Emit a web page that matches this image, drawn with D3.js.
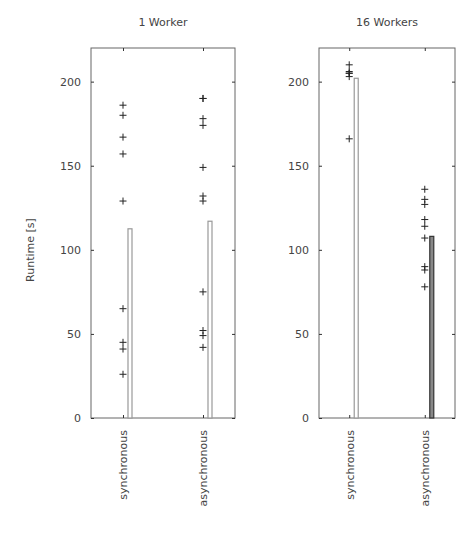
<!DOCTYPE html><html><head><meta charset="utf-8"><script src="https://cdn.jsdelivr.net/npm/d3@7"></script>
<style>body{margin:0;background:#fff}text{font-family:"DejaVu Sans",sans-serif;fill:#444}</style></head><body>
<svg id="c" width="474" height="557"></svg>
<script>
const categories=["synchronous","asynchronous"];
const panels=["1 Worker","16 Workers"];
const yTicks=[0,50,100,150,200];
const pts1Sync=[186,180,167,157,129,65,45,41,26];
const pts1Async=[190,190,178,174,149,132,129,75,52,49,42];
const pts16Sync=[210,206,205,205,203,166];
const pts16Async=[136,130,127,118,114,107,90,88,78];
const means1=[112.5,117];
const means16=[202,108];
const data=[{t:panels[0],pts:[pts1Sync,pts1Async],m:means1,x0:91,x1:235,bar:["#999","#999"]},
            {t:panels[1],pts:[pts16Sync,pts16Async],m:means16,x0:319,x1:455,bar:["#999","#333"]}];
const svg=d3.select("#c");
const y=d3.scaleLinear().domain([0,220]).range([418,48]);
data.forEach(p=>{
  const g=svg.append("g");
  const w=p.x1-p.x0;
  const x=d3.scalePoint().domain(categories).range([p.x0,p.x1]).padding(0.4);
  g.append("rect").attr("x",p.x0).attr("y",y(220)).attr("width",w).attr("height",y(0)-y(220)).attr("fill","none").attr("stroke","#666");
  g.append("g").attr("transform",`translate(${p.x0},0)`).call(d3.axisLeft(y).tickValues(yTicks).tickSize(-3).tickPadding(10)).call(a=>{a.select(".domain").remove();a.selectAll("line").attr("stroke","#333");a.selectAll("text").attr("font-size",11).style("fill","#444")});
  g.append("g").attr("transform",`translate(${p.x1},0)`).call(d3.axisRight(y).tickValues(yTicks).tickSize(-3).tickFormat("")).call(a=>{a.select(".domain").remove();a.selectAll("line").attr("stroke","#333")});
  g.append("g").attr("transform",`translate(0,${y(220)})`).call(d3.axisTop(x).tickSize(-3).tickFormat("")).call(a=>{a.select(".domain").remove();a.selectAll("line").attr("stroke","#333")});
  g.append("g").attr("transform",`translate(0,${y(0)})`).call(d3.axisBottom(x).tickSize(-3).tickPadding(12)).call(a=>{a.select(".domain").remove();a.selectAll("line").attr("stroke","#333");
    a.selectAll("text").attr("font-size",11).style("fill","#444").attr("text-anchor","end").attr("transform","rotate(-90)").attr("dx","-12").attr("dy","0.35em").attr("y",0).attr("x",0)});
  categories.forEach((c,i)=>{
    const cx=x(c);
    g.append("rect").attr("x",cx+5).attr("y",y(p.m[i])).attr("width",4).attr("height",y(0)-y(p.m[i])).attr("fill",i==1&&p.t==panels[1]?"#888":"#fff").attr("stroke",p.bar[i]).attr("stroke-width",1.2);
    p.pts[i].forEach(v=>{
      g.append("path").attr("d",`M${cx-3.5},${y(v)}h7M${cx},${y(v)-3.5}v7`).attr("stroke","#222").attr("stroke-width",1);
    });
  });
  g.append("text").attr("x",(p.x0+p.x1)/2).attr("y",26).attr("text-anchor","middle").attr("font-size",11).text(p.t);
});
svg.append("text").attr("transform","translate(34,250) rotate(-90)").attr("text-anchor","middle").attr("font-size",11).text("Runtime [s]");
</script></body></html>
